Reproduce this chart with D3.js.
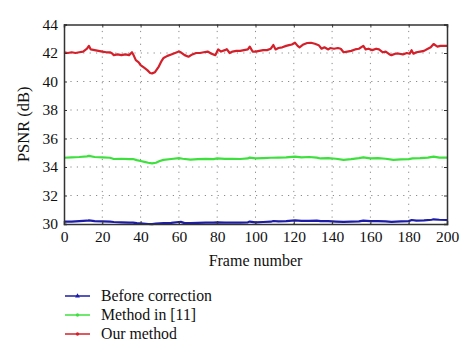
<!DOCTYPE html>
<html><head><meta charset="utf-8">
<script src="https://cdn.jsdelivr.net/npm/d3@7"></script>
<style>html,body{margin:0;padding:0;background:#fff;}svg{display:block;}</style>
</head><body>
<svg id="chart" width="474" height="361" font-family="Liberation Serif"></svg>
<script>
const xTicks = [0,20,40,60,80,100,120,140,160,180,200];
const yTicks = [30,32,34,36,38,40,42,44];
const seriesNames = ["Before correction","Method in [11]","Our method"];
const seriesColors = ["#1c1ca8","#3ee03e","#d4202a"];

const ourFrames = [0,2,4,6,8,10,12,13,14,16,18,20,22,24,25,26,28,30,32,34,35.5,36.5,37.5,39,40,42,43.5,45,46,47.5,48.5,49.5,51,52,54,56,58,60,61,63,65,67,69,71,73,75,77,79,80.5,82,84,85,86.5,88,90,92,94,96,97,98.5,100,102,104,106,108,109.3,110.5,112,114,116,117.5,119,120.6,122,123,125,127,129,131,133,134.5,136,138,139,141,143,144.5,146,148,150,152,154,156.3,157.5,159,161,163,164.5,166.5,168,170,171,173,175,177,179,180.5,181.5,182.5,184,186,188,190,191.5,193,195,196.5,198,200];
const ourValues = [42.05,42.0,42.05,42.0,42.05,42.1,42.3,42.5,42.25,42.2,42.15,42.1,42.05,42.05,41.98,41.85,41.9,41.85,41.9,41.85,42.05,41.8,41.5,41.35,41.15,40.95,40.8,40.6,40.57,40.65,40.85,41.05,41.45,41.65,41.8,41.9,42.0,42.1,42.05,41.85,41.74,41.9,42.0,42.0,42.05,42.1,41.95,41.85,42.25,42.1,42.2,42.27,42.0,42.1,42.15,42.15,42.2,42.25,42.45,42.1,42.1,42.15,42.2,42.2,42.3,42.56,42.25,42.35,42.4,42.5,42.55,42.6,42.73,42.5,42.4,42.6,42.7,42.72,42.65,42.55,42.3,42.4,42.25,42.35,42.3,42.35,42.3,42.05,42.1,42.15,42.25,42.3,42.5,42.25,42.3,42.2,42.3,42.25,42.05,42.1,41.9,41.85,41.95,41.95,41.9,42.0,41.95,42.2,41.95,42.05,42.1,42.15,42.3,42.4,42.63,42.45,42.5,42.5,42.5];

const refFrames = [0,4,8,12,13,16,20,24,26,30,34,36,38,40,42,44,46,48,50,52,56,60,62,66,70,74,78,80,84,88,92,96,97,100,104,108,112,116,120.6,124,128,132,134,138,142,146,150,154,156.3,160,164,168,172,176,180,182,186,190,193,196,200];
const refValues = [34.65,34.68,34.7,34.75,34.78,34.7,34.68,34.65,34.56,34.58,34.55,34.56,34.48,34.42,34.36,34.3,34.26,34.3,34.42,34.5,34.56,34.62,34.58,34.52,34.55,34.57,34.55,34.6,34.57,34.58,34.56,34.6,34.66,34.6,34.62,34.65,34.66,34.68,34.73,34.68,34.7,34.66,34.6,34.62,34.58,34.5,34.55,34.62,34.68,34.6,34.62,34.58,34.5,34.53,34.55,34.6,34.62,34.66,34.73,34.66,34.66];

const beforeFrames = [0,4,8,12,13,16,20,24,26,30,34,36,38,40,44,46,48,52,56,60,61,63,66,70,74,78,80,84,88,92,96,97,100,104,108,109.3,112,116,120.6,124,128,132,134,138,142,146,150,154,156.3,160,164,168,171,176,180,181.6,184,188,192,193,196,200];
const beforeValues = [30.16,30.17,30.2,30.23,30.25,30.2,30.18,30.16,30.14,30.12,30.1,30.1,30.06,30.04,30.0,29.99,30.02,30.06,30.08,30.14,30.15,30.06,30.07,30.08,30.1,30.09,30.12,30.09,30.1,30.1,30.12,30.17,30.12,30.14,30.16,30.21,30.18,30.2,30.26,30.22,30.22,30.24,30.2,30.2,30.17,30.15,30.16,30.18,30.24,30.2,30.2,30.18,30.15,30.18,30.2,30.28,30.24,30.26,30.3,30.33,30.3,30.28];

const svg = d3.select("#chart");
const L = 64, R = 447, T = 24.5, B = 224;
const x = d3.scaleLinear().domain([0,200]).range([L,R]);
const y = d3.scaleLinear().domain([30,44]).range([B,T]);
const font = "Liberation Serif";
const ink = "#111";

// grid
const grid = svg.append("g").attr("stroke","#8a8a8a").attr("stroke-width",1).attr("stroke-dasharray","1.2,5.2");
grid.selectAll("line.v").data(xTicks.slice(1,-1)).enter().append("line")
  .attr("x1",d=>x(d)).attr("x2",d=>x(d)).attr("y1",T).attr("y2",B);
grid.selectAll("line.h").data(yTicks.slice(1,-1)).enter().append("line")
  .attr("x1",L).attr("x2",R).attr("y1",d=>y(d)).attr("y2",d=>y(d));

// series
const line = d3.line().x(d=>x(d[0])).y(d=>y(d[1]));
const data = [
  d3.zip(beforeFrames, beforeValues),
  d3.zip(refFrames, refValues),
  d3.zip(ourFrames, ourValues)
];
data.forEach((s,i)=>{
  svg.append("path").datum(s).attr("d",line).attr("fill","none")
    .attr("stroke",seriesColors[i]).attr("stroke-width",2.2).attr("stroke-linejoin","round");
});

// axes
const axB = svg.append("g").attr("transform",`translate(0,${B})`)
  .call(d3.axisBottom(x).tickValues(xTicks).tickSize(-3).tickPadding(7));
const axL = svg.append("g").attr("transform",`translate(${L},0)`)
  .call(d3.axisLeft(y).tickValues(yTicks).tickSize(-3).tickPadding(6));
const axT = svg.append("g").attr("transform",`translate(0,${T})`)
  .call(d3.axisTop(x).tickValues(xTicks).tickSize(-3).tickFormat(""));
const axR = svg.append("g").attr("transform",`translate(${R},0)`)
  .call(d3.axisRight(y).tickValues(yTicks).tickSize(-3).tickFormat(""));
[axB,axL,axT,axR].forEach(a=>{
  a.attr("font-family",font).attr("font-size",15.5);
  a.select(".domain").attr("stroke","#333").attr("stroke-width",1.5);
  a.selectAll(".tick line").attr("stroke","#333");
  a.selectAll("text").attr("fill",ink);
});
axB.selectAll("text").attr("dy","0.71em");

svg.append("text").attr("x",(L+R)/2).attr("y",266).attr("text-anchor","middle")
  .attr("font-family",font).attr("font-size",16).attr("fill",ink).text("Frame number");
svg.append("text").attr("transform",`translate(29,${(T+B)/2}) rotate(-90)`).attr("text-anchor","middle")
  .attr("font-family",font).attr("font-size",16.5).attr("fill",ink).text("PSNR (dB)");

// legend
const legY = [296,315,334];
const leg = svg.append("g");
seriesNames.forEach((n,i)=>{
  const g = leg.append("g").attr("transform",`translate(0,${legY[i]})`);
  g.append("line").attr("x1",65).attr("x2",90).attr("y1",0).attr("y2",0)
    .attr("stroke",seriesColors[i]).attr("stroke-width",1.5);
  if(i===0){
    g.append("path").attr("d",d3.symbol(d3.symbolTriangle,10)()).attr("transform","translate(77.5,0)").attr("fill",seriesColors[i]);
  } else {
    g.append("circle").attr("cx",77.5).attr("cy",0).attr("r",1.7).attr("fill",seriesColors[i]);
  }
  g.append("text").attr("x",101).attr("y",5).attr("font-family",font).attr("font-size",15.8)
    .attr("fill",ink).text(n);
});
</script>
</body></html>
